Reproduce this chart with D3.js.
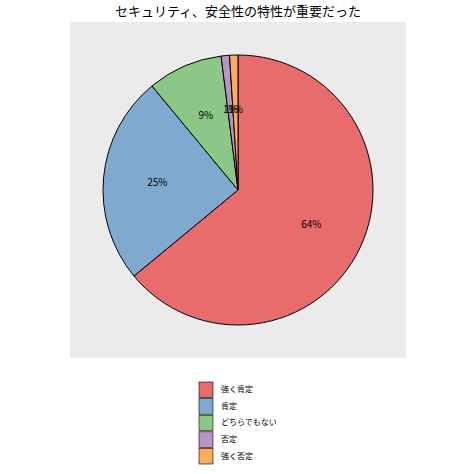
<!DOCTYPE html><html><head><meta charset="utf-8"><script src="https://cdn.jsdelivr.net/npm/d3@7"></script>
<style>body{margin:0;background:#fff}</style></head><body><svg id="c" width="474" height="474"></svg><script>
const categories=["強く肯定","肯定","どちらでもない","否定","強く否定"];
const values=[64,25,9,1,1];
const labels=["64%","25%","9%","1%","1%"];
const colors=["#E96C6D","#7FA9CF","#8CC787","#B693C9","#F9AB5E"];
const svg=d3.select("#c"),F="'Noto Sans CJK JP',sans-serif";
svg.append("rect").attr("x",70).attr("y",22).attr("width",336).attr("height",336).attr("fill","#EBEBEB");
svg.append("text").attr("x",238).attr("y",16).attr("text-anchor","middle").attr("font-family",F).attr("font-size",13).text("セキュリティ、安全性の特性が重要だった");
const cx=238,cy=190,r=135;
const arcs=d3.pie().sort(null)(values);
const arc=d3.arc().innerRadius(0).outerRadius(r);
const la=d3.arc().innerRadius(r*0.6).outerRadius(r*0.6);
const g=svg.append("g").attr("transform",`translate(${cx},${cy})`);
g.selectAll("path").data(arcs).join("path").attr("d",arc).attr("fill",(d,i)=>colors[i]).attr("stroke","#000").attr("stroke-width",1);
g.selectAll("text").data(arcs).join("text").attr("transform",d=>`translate(${la.centroid(d)})`).attr("text-anchor","middle").attr("dy","0.35em").attr("font-family",F).attr("font-size",10).text((d,i)=>labels[i]);
const y=d3.scaleBand().domain(categories).range([381,464]);
const lg=svg.append("g");
categories.forEach((c,i)=>{const yy=y(c);
lg.append("rect").attr("x",199).attr("y",yy+1).attr("width",14).attr("height",y.bandwidth()-1).attr("fill",colors[i]).attr("stroke","#000").attr("stroke-width",0.6);
lg.append("text").attr("x",221).attr("y",yy+y.bandwidth()/2).attr("dy","0.35em").attr("font-family",F).attr("font-size",8).text(c);});
</script></body></html>
